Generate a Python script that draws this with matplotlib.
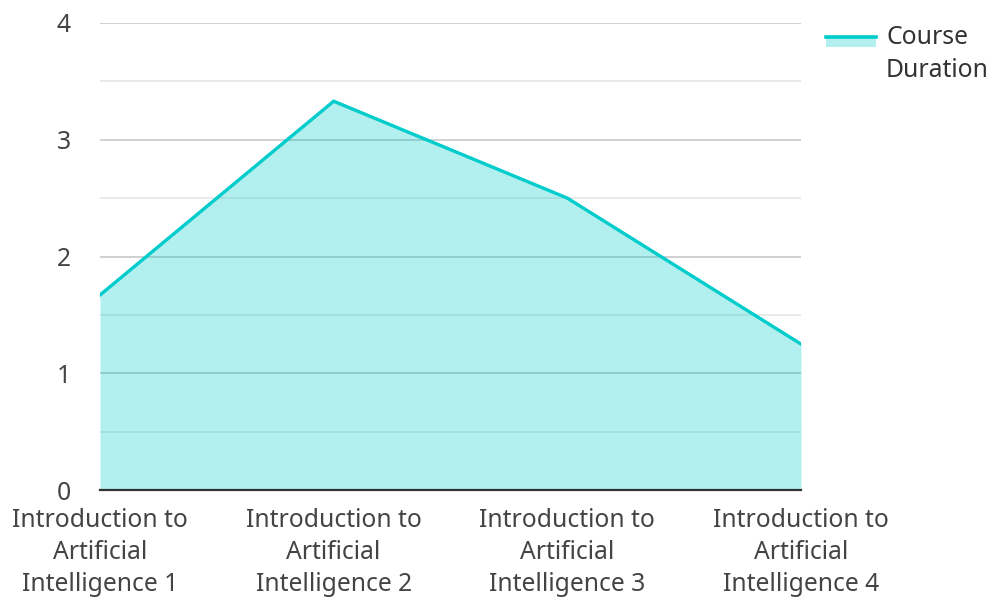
import matplotlib
matplotlib.use("Agg")
import matplotlib.pyplot as plt
from matplotlib.patches import Rectangle
from matplotlib.lines import Line2D

plt.rcParams['font.family'] = ['Noto Sans', 'DejaVu Sans']

categories = ["Introduction to\nArtificial\nIntelligence 1",
              "Introduction to\nArtificial\nIntelligence 2",
              "Introduction to\nArtificial\nIntelligence 3",
              "Introduction to\nArtificial\nIntelligence 4"]
values = [1.67, 3.33, 2.5, 1.25]
series_name = "Course\nDuration"
y_ticks = [0, 1, 2, 3, 4]

LINE = "#00cccc"
FILL = "#b2efee"
FS = 17.8

W, H = 991, 597
fig = plt.figure(figsize=(W / 100, H / 100), dpi=100)
ax = fig.add_axes([100 / W, 1 - 490 / H, 701 / W, 467 / H])

x = list(range(len(categories)))
ax.fill_between(x, values, 0, color=LINE, alpha=0.3, linewidth=0, zorder=3)
ax.plot(x, values, color=LINE, linewidth=2.4, zorder=4, solid_joinstyle='miter')

ax.set_xlim(0, len(categories) - 1)
ax.set_ylim(0, 4)
ax.set_yticks(y_ticks)
ax.set_yticks([0.5, 1.5, 2.5, 3.5], minor=True)
ax.grid(axis='y', which='major', color='#c8c8c8', linewidth=1.2, zorder=1)
ax.grid(axis='y', which='minor', color='#e6e6e6', linewidth=1.2, zorder=1)
ax.set_axisbelow(True)

for s in ['top', 'right', 'left']:
    ax.spines[s].set_visible(False)
ax.spines['bottom'].set_color('#333333')
ax.spines['bottom'].set_linewidth(1.6)
ax.spines['bottom'].set_zorder(5)

ax.set_xticks(x)
ax.set_xticklabels(categories, linespacing=1.38)
ax.tick_params(axis='both', which='both', length=0, labelsize=FS, labelcolor='#444444')
ax.tick_params(axis='y', pad=26)
ax.tick_params(axis='x', pad=13)
for lbl in ax.get_yticklabels():
    lbl.set_horizontalalignment('center')
for lbl in ax.get_xticklabels():
    lbl.set_clip_on(False)

# legend drawn in figure pixel coordinates
def fx(px):
    return px / W

def fy(py):
    return 1 - py / H

fig.patches.append(Rectangle((fx(826), fy(47)), 50 / W, 10 / H, facecolor=FILL,
                             edgecolor='none', transform=fig.transFigure, figure=fig))
fig.lines.append(Line2D([fx(826), fx(876)], [fy(37), fy(37)], color=LINE, linewidth=2.6,
                        transform=fig.transFigure, figure=fig))
fig.text(fx(886), fy(25.5), series_name, fontsize=FS, color='#333333',
         ha='left', va='top', linespacing=1.38)

fig.savefig("out.png", dpi=100)
